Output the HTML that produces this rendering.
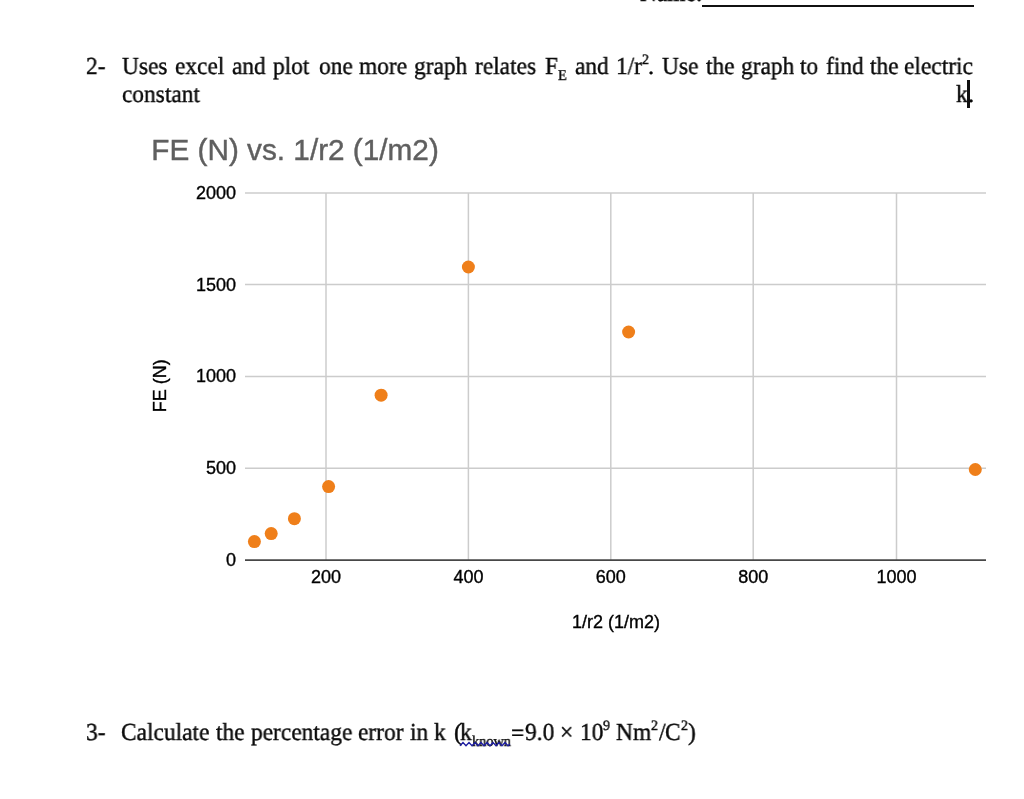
<!DOCTYPE html>
<html>
<head>
<meta charset="utf-8">
<style>
html,body{margin:0;padding:0;background:#fff;}
body{width:1024px;height:799px;overflow:hidden;position:relative;}
.w{position:absolute;font-family:"Liberation Serif","Times New Roman",serif;color:#0a0a0a;line-height:1;white-space:nowrap;transform-origin:0 0;transform:scaleX(0.955);-webkit-text-stroke:0.4px #0a0a0a;text-rendering:geometricPrecision;will-change:transform;}
#chart{position:absolute;left:0;top:0;will-change:transform;}
</style>
</head>
<body>
<div class="w" style="left:639.5px;top:-17.8px;font-size:24.5px">Name:</div>
<div style="position:absolute;left:702px;top:5px;width:272px;height:2px;background:#111;"></div>

<div class="w" style="left:122.36px;top:54.5px;font-size:24.5px">Uses</div>
<div class="w" style="left:174.77px;top:54.5px;font-size:24.5px">excel</div>
<div class="w" style="left:231.79px;top:54.5px;font-size:24.5px">and</div>
<div class="w" style="left:273.03px;top:54.5px;font-size:24.5px">plot</div>
<div class="w" style="left:319.09px;top:54.5px;font-size:24.5px">one</div>
<div class="w" style="left:358.68px;top:54.5px;font-size:24.5px">more</div>
<div class="w" style="left:414.11px;top:54.5px;font-size:24.5px">graph</div>
<div class="w" style="left:475.09px;top:54.5px;font-size:24.5px">relates</div>
<div class="w" style="left:544.52px;top:54.5px;font-size:24.5px">F</div>
<div class="w" style="left:558.05px;top:69px;font-size:15px">E</div>
<div class="w" style="left:574.59px;top:54.5px;font-size:24.5px">and</div>
<div class="w" style="left:615.58px;top:54.5px;font-size:24.5px">1/r</div>
<div class="w" style="left:642.16px;top:52.8px;font-size:14.5px">2</div>
<div class="w" style="left:648.28px;top:54.5px;font-size:24.5px">.</div>
<div class="w" style="left:662.46px;top:54.5px;font-size:24.5px">Use</div>
<div class="w" style="left:706.27px;top:54.5px;font-size:24.5px">the</div>
<div class="w" style="left:741.31px;top:54.5px;font-size:24.5px">graph</div>
<div class="w" style="left:800.23px;top:54.5px;font-size:24.5px">to</div>
<div class="w" style="left:825.80px;top:54.5px;font-size:24.5px">find</div>
<div class="w" style="left:869.57px;top:54.5px;font-size:24.5px">the</div>
<div class="w" style="left:903.97px;top:54.5px;font-size:24.5px">electric</div>
<div class="w" style="left:85.95px;top:54.5px;font-size:24.5px">2-</div>
<div class="w" style="left:121.50px;top:83px;font-size:24.5px">constant</div>
<div class="w" style="left:956.20px;top:83px;font-size:24.5px">k</div>
<div class="w" style="left:968.13px;top:83px;font-size:24.5px">.</div>
<div class="w" style="left:86.40px;top:721px;font-size:24.5px">3-</div>
<div class="w" style="left:121.34px;top:721px;font-size:24.5px">Calculate</div>
<div class="w" style="left:216.18px;top:721px;font-size:24.5px">the</div>
<div class="w" style="left:251.13px;top:721px;font-size:24.5px">percentage</div>
<div class="w" style="left:358.33px;top:721px;font-size:24.5px">error</div>
<div class="w" style="left:409.78px;top:721px;font-size:24.5px">in</div>
<div class="w" style="left:434.09px;top:721px;font-size:24.5px">k</div>
<div class="w" style="left:453.70px;top:721px;font-size:24.5px">(</div>
<div class="w" style="left:460.19px;top:721px;font-size:24.5px">k</div>
<div class="w" style="left:472.47px;top:734.5px;font-size:15px">known</div>
<div class="w" style="left:511.39px;top:722.3px;font-size:24.5px">=</div>
<div class="w" style="left:524.75px;top:721px;font-size:24.5px">9.0</div>
<div class="w" style="left:559.97px;top:721px;font-size:24.5px">×</div>
<div class="w" style="left:579.88px;top:721px;font-size:24.5px">10</div>
<div class="w" style="left:602.58px;top:719px;font-size:14.5px">9</div>
<div class="w" style="left:615.81px;top:721px;font-size:24.5px">N</div>
<div class="w" style="left:633.03px;top:721px;font-size:24.5px">m</div>
<div class="w" style="left:651.21px;top:719px;font-size:14.5px">2</div>
<div class="w" style="left:658.76px;top:721px;font-size:24.5px">/</div>
<div class="w" style="left:665.36px;top:721px;font-size:24.5px">C</div>
<div class="w" style="left:680.61px;top:719px;font-size:14.5px">2</div>
<div class="w" style="left:687.98px;top:721px;font-size:24.5px">)</div>

<div style="position:absolute;left:967px;top:80px;width:3px;height:28px;background:#111;"></div>

<svg id="chart" width="1024" height="799">
  <g stroke="#cccccc" stroke-width="1.5" fill="none">
    <line x1="245" y1="193" x2="986" y2="193"/>
    <line x1="245" y1="284.5" x2="986" y2="284.5"/>
    <line x1="245" y1="376.5" x2="986" y2="376.5"/>
    <line x1="245" y1="468.3" x2="986" y2="468.3"/>
    <line x1="326" y1="193" x2="326" y2="560"/>
    <line x1="468.4" y1="193" x2="468.4" y2="560"/>
    <line x1="610.8" y1="193" x2="610.8" y2="560"/>
    <line x1="753.2" y1="193" x2="753.2" y2="560"/>
    <line x1="896.5" y1="193" x2="896.5" y2="560"/>
  </g>
  <line x1="245" y1="560.1" x2="986" y2="560.1" stroke="#474747" stroke-width="1.9"/>
  <g fill="#ef7f1a">
    <circle cx="254.4" cy="541.6" r="6.5"/>
    <circle cx="271.2" cy="533.6" r="6.5"/>
    <circle cx="294.4" cy="518.7" r="6.5"/>
    <circle cx="328.6" cy="486.6" r="6.5"/>
    <circle cx="381.1" cy="395.2" r="6.5"/>
    <circle cx="468.4" cy="267" r="6.5"/>
    <circle cx="628.6" cy="332" r="6.5"/>
    <circle cx="975.3" cy="469.5" r="6.5"/>
  </g>
  <g font-family="Liberation Sans, Arial, sans-serif" font-size="18" fill="#000" stroke="#000" stroke-width="0.35" text-anchor="end">
    <text x="236" y="198.8">2000</text>
    <text x="236" y="290.6">1500</text>
    <text x="236" y="382.4">1000</text>
    <text x="236" y="474">500</text>
    <text x="236" y="565.7">0</text>
  </g>
  <g font-family="Liberation Sans, Arial, sans-serif" font-size="18" fill="#000" stroke="#000" stroke-width="0.35" text-anchor="middle">
    <text x="326" y="582.8">200</text>
    <text x="468.4" y="582.8">400</text>
    <text x="610.8" y="582.8">600</text>
    <text x="753.2" y="582.8">800</text>
    <text x="896.5" y="582.8">1000</text>
    <text x="615.9" y="627.6" textLength="88" lengthAdjust="spacingAndGlyphs">1/r2 (1/m2)</text>
  </g>
  <text x="165.6" y="385.8" transform="rotate(-90 165.6 385.8)" font-family="Liberation Sans, Arial, sans-serif" font-size="17.5" fill="#000" stroke="#000" stroke-width="0.35" text-anchor="middle" textLength="53" lengthAdjust="spacingAndGlyphs">FE (N)</text>
  <text x="151.3" y="160" font-family="Liberation Sans, Arial, sans-serif" font-size="28.6" fill="#5f5f5f" stroke="#5f5f5f" stroke-width="0.4" textLength="287.5" lengthAdjust="spacingAndGlyphs">FE (N) vs. 1/r2 (1/m2)</text>
  <polyline points="460,745.8 463,742.5 466,745.8 469,742.5 472,745.8 475,742.5 478,745.8 481,742.5 484,745.8 487,742.5 490,745.8 493,742.5 496,745.8 499,742.5 502,745.8 505,742.5 508,745.8 510,744" fill="none" stroke="#1c1ca0" stroke-width="1.3"/>
</svg>
</body>
</html>
